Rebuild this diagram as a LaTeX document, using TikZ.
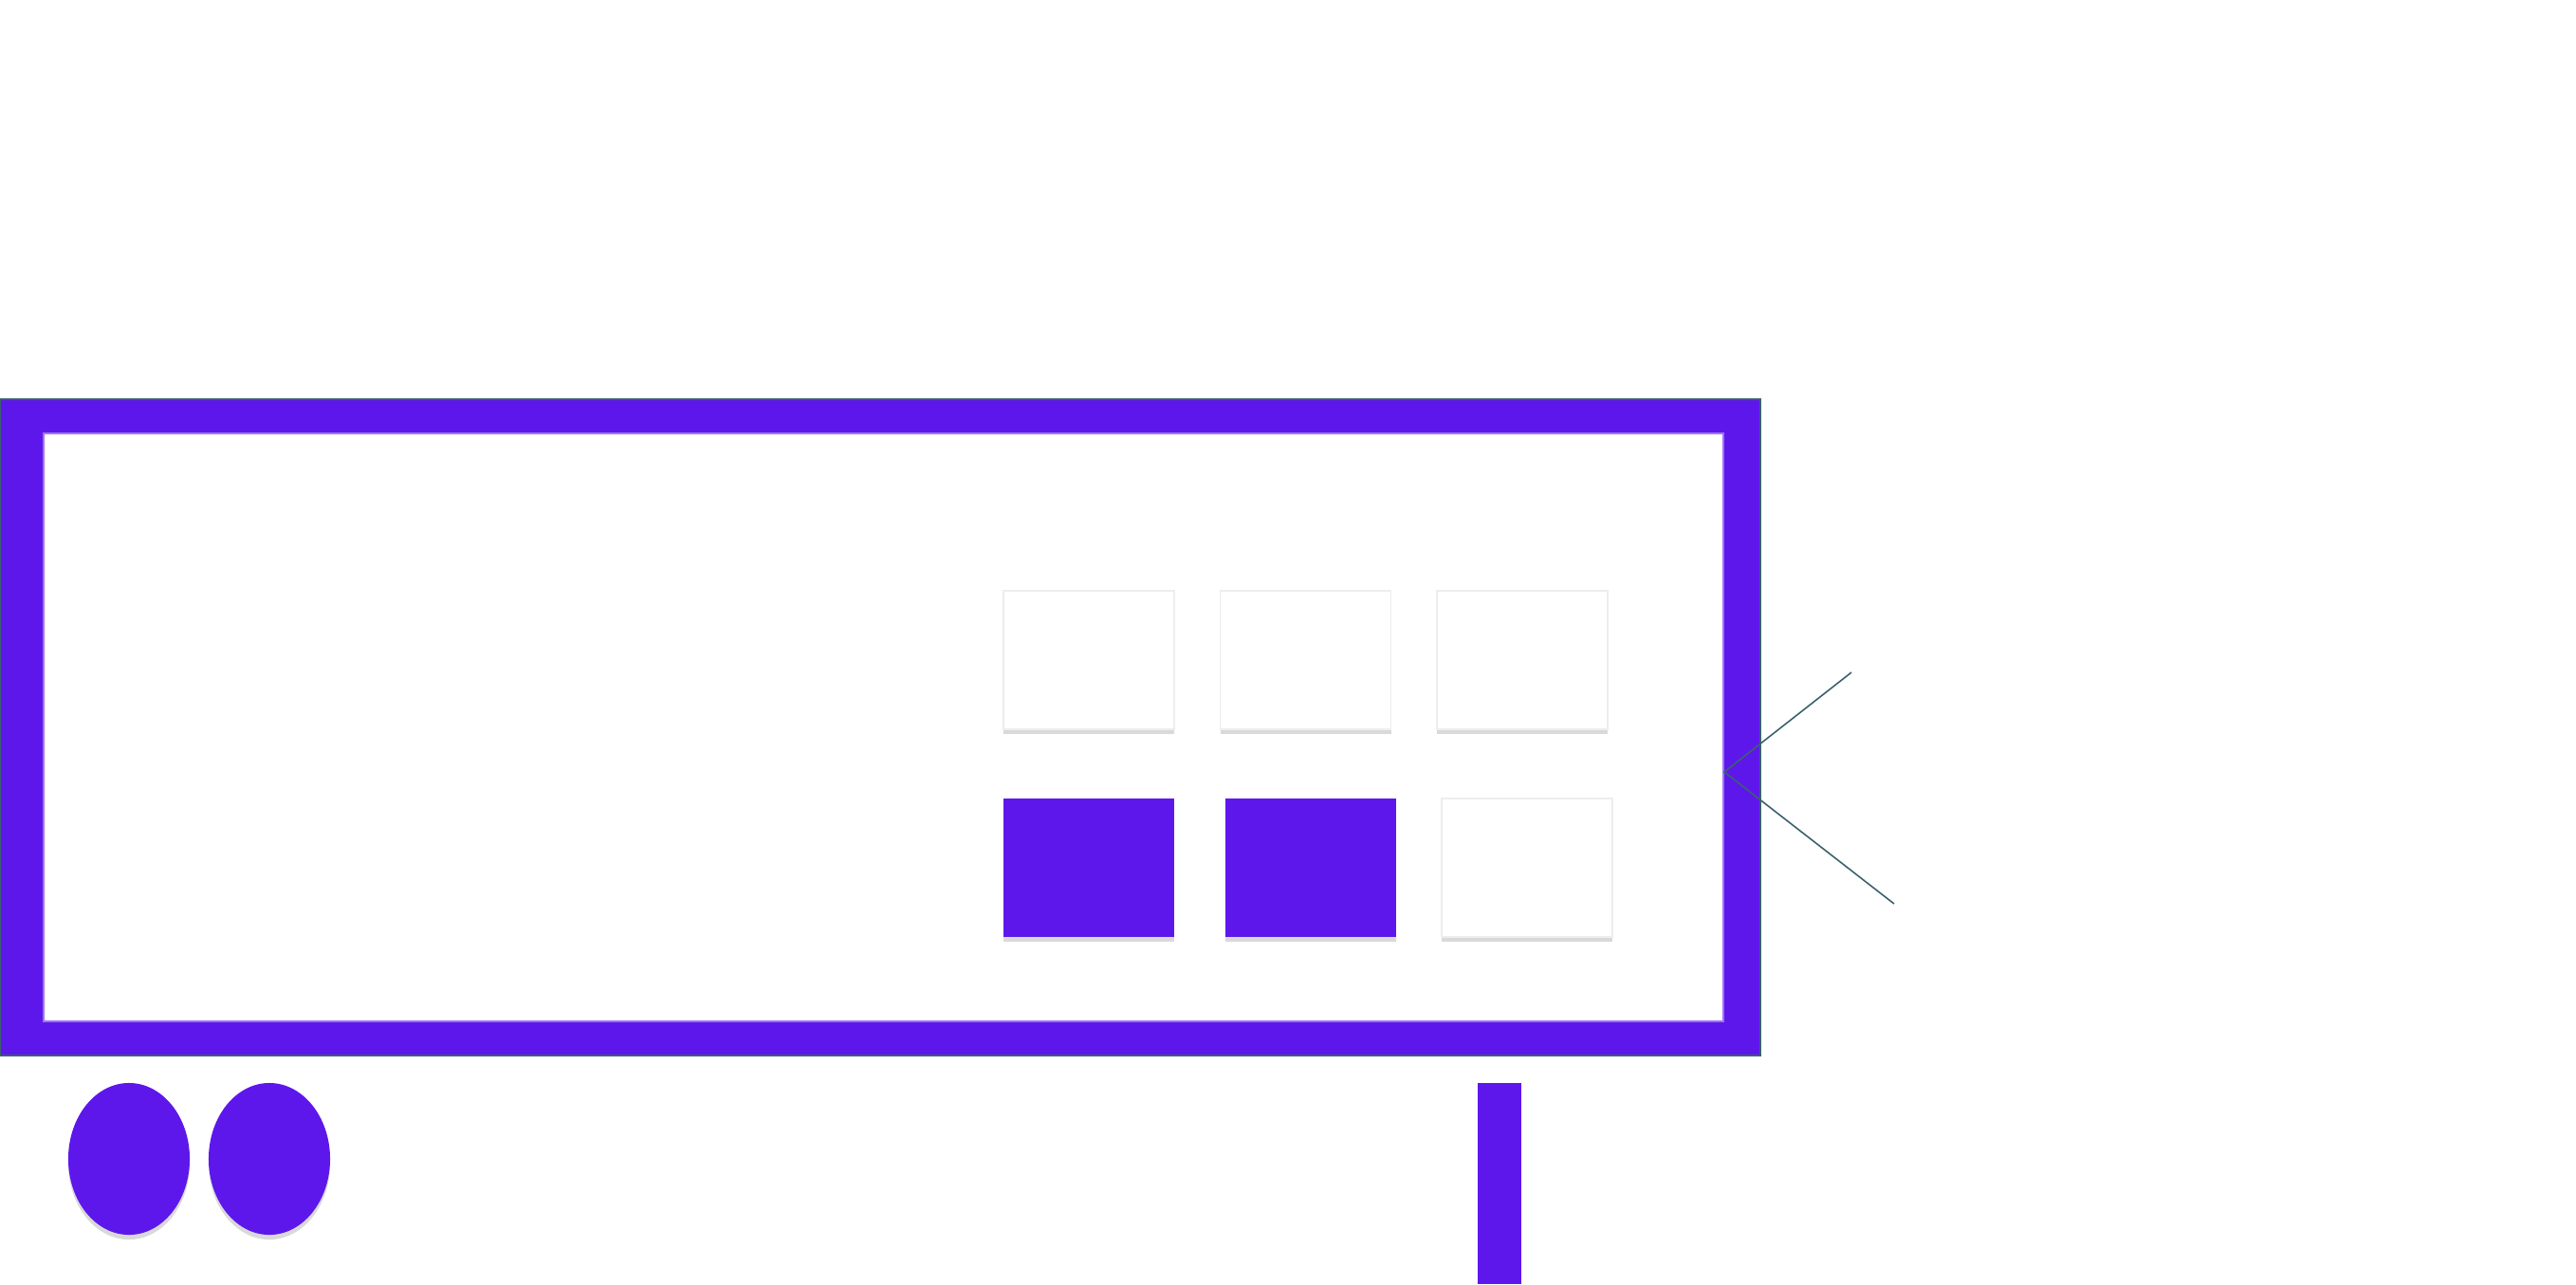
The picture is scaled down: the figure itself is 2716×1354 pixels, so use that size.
\documentclass[tikz,border=0pt]{standalone}
\usepackage{tikz}
\usetikzlibrary{positioning,shapes.geometric,shadows}
\definecolor{vio}{RGB}{94,23,235}
\definecolor{teal}{RGB}{58,96,108}

\begin{document}
\begin{tikzpicture}[x=0.01cm, y=-0.01cm, node distance=0.47cm]
	\tikzstyle{box}=[rectangle,minimum width=1.8cm,minimum height=1.46cm,inner sep=0pt,
		drop shadow={shadow xshift=0pt,shadow yshift=-0.5mm,opacity=0.3}]
	\tikzstyle{open}=[box,fill=white,draw=black!7]
	\tikzstyle{full}=[box,fill=vio]
	\tikzstyle{wheel}=[ellipse,fill=vio,minimum width=1.28cm,minimum height=1.6cm,inner sep=0pt,
		drop shadow={shadow xshift=0pt,shadow yshift=-0.5mm,opacity=0.3}]
	\useasboundingbox (0,0) rectangle (2716,1354);
	% frame
	\fill[vio,even odd rule] (0,421) rectangle (1856,1113) (46,457) rectangle (1817,1077);
	\draw[teal,line width=0.4pt] (0,421) rectangle (1856,1113);
	\draw[vio!60,line width=0.4pt] (46,457) rectangle (1817,1077);
	% upper row
	\node[open]  (u1) at (1148,696) {};
	\node[open]  (u2) [right=of u1] {};
	\node[open]  (u3) [right=of u2] {};
	% lower row
	\node[full]  (l1) at (1148,915) {};
	\node[full]  (l2) [right=0.52cm of l1] {};
	\node[open]  (l3) [right=of l2] {};
	% wheels and post
	\node[wheel] (w1) at (136,1222) {};
	\node[wheel] (w2) at (284,1222) {};
	\fill[vio] (1558,1142) rectangle (1604,1354);
	% the angle
	\coordinate (tip)  at (1818,814);
	\coordinate (armA) at (1952,709);
	\coordinate (armB) at (1997,953);
	\draw[teal,line width=0.45pt] (armA) -- (tip) -- (armB);
\end{tikzpicture}
\end{document}
